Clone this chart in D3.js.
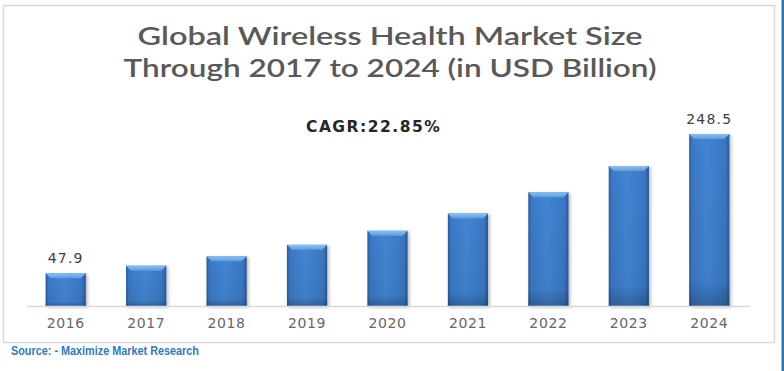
<!DOCTYPE html>
<html>
<head>
<meta charset="utf-8">
<script src="https://cdn.jsdelivr.net/npm/d3@7"></script>
<style>
  html, body { margin: 0; padding: 0; background: #fff; }
  svg { display: block; }
</style>
</head>
<body>
<div id="chart"></div>
<script>
// data
var years = ['2016', '2017', '2018', '2019', '2020', '2021', '2022', '2023', '2024'];
var marketSize = [47.9, 58.8, 72.3, 88.8, 109.1, 134.0, 164.6, 202.3, 248.5];
var labelled = ['2016', '2024'];   // only these bars carry a value label
var titleLines = ['Global Wireless Health Market  Size', 'Through 2017 to 2024 (in USD Billion)'];
var cagrText = 'CAGR:22.85%';
var sourceText = 'Source: - Maximize Market Research';

var width = 784, height = 371;

var svg = d3.select('#chart').append('svg')
  .attr('width', width)
  .attr('height', height);

var defs = svg.append('defs');

// bar body: dark edges, lighter middle
var g1 = defs.append('linearGradient').attr('id', 'barBody')
  .attr('x1', '0').attr('x2', '1').attr('y1', '0').attr('y2', '0');
[['0%', '#28599a'], ['7%', '#3a78c4'], ['45%', '#4286d3'], ['90%', '#3a77c2'], ['100%', '#285897']]
  .forEach(function (s) { g1.append('stop').attr('offset', s[0]).attr('stop-color', s[1]); });

// a little darker toward the bottom
var g2 = defs.append('linearGradient').attr('id', 'barShade')
  .attr('x1', '0').attr('x2', '0').attr('y1', '0').attr('y2', '1');
g2.append('stop').attr('offset', '0%').attr('stop-color', '#000').attr('stop-opacity', 0);
g2.append('stop').attr('offset', '85%').attr('stop-color', '#000').attr('stop-opacity', 0.05);
g2.append('stop').attr('offset', '100%').attr('stop-color', '#000').attr('stop-opacity', 0.25);

// top bevel
var g3 = defs.append('linearGradient').attr('id', 'barTop')
  .attr('x1', '0').attr('x2', '0').attr('y1', '0').attr('y2', '1');
g3.append('stop').attr('offset', '0%').attr('stop-color', '#8cc0f2');
g3.append('stop').attr('offset', '100%').attr('stop-color', '#5a9be2');

var shadow = defs.append('filter').attr('id', 'shadow')
  .attr('x', '-20%').attr('y', '-10%').attr('width', '150%').attr('height', '130%');
shadow.append('feDropShadow').attr('dx', 2).attr('dy', 1).attr('stdDeviation', 1.5)
  .attr('flood-color', '#000').attr('flood-opacity', 0.25);

// outer frame + blue edge at the right
svg.append('rect')
  .attr('x', 3.5).attr('y', 5.5).attr('width', 771).attr('height', 337)
  .attr('fill', '#fff').attr('stroke', '#d9d9d9').attr('stroke-width', 1.5);
svg.append('rect')
  .attr('x', 781.5).attr('y', 0).attr('width', 2.5).attr('height', height)
  .attr('fill', '#2e75b6');

// title
svg.append('g').selectAll('text')
  .data(titleLines)
  .enter().append('text')
  .attr('x', 390)
  .attr('y', function (d, i) { return 45 + i * 32; })
  .attr('text-anchor', 'middle')
  .attr('font-family', 'Lato, "Open Sans", sans-serif')
  .attr('font-weight', 600)
  .attr('font-size', '25px')
  .attr('fill', '#595959')
  .attr('textLength', function (d, i) { return i == 0 ? 505 : 533; })
  .attr('lengthAdjust', 'spacingAndGlyphs')
  .text(function (d) { return d; });

// scales
var x = d3.scaleBand()
  .domain(years)
  .range([25.5, 749.5])
  .paddingInner(0.5)
  .paddingOuter(0.25);

var y = d3.scaleLinear()
  .domain([0, 248.5])
  .range([306.5, 134]);

// bars
var bars = svg.append('g').selectAll('g')
  .data(years)
  .enter().append('g');

bars.append('rect')
  .attr('x', function (d) { return x(d); })
  .attr('y', function (d, i) { return y(marketSize[i]); })
  .attr('width', x.bandwidth())
  .attr('height', function (d, i) { return y(0) - y(marketSize[i]); })
  .attr('fill', 'url(#barBody)')
  .attr('filter', 'url(#shadow)');

bars.append('rect')
  .attr('x', function (d) { return x(d); })
  .attr('y', function (d, i) { return y(marketSize[i]); })
  .attr('width', x.bandwidth())
  .attr('height', function (d, i) { return y(0) - y(marketSize[i]); })
  .attr('fill', 'url(#barShade)');

bars.append('path')
  .attr('d', function (d, i) {
    var x0 = x(d), x1 = x(d) + x.bandwidth(), t = y(marketSize[i]);
    return 'M' + x0 + ',' + t + 'L' + x1 + ',' + t +
           'L' + (x1 - 5) + ',' + (t + 5) + 'L' + (x0 + 5) + ',' + (t + 5) + 'Z';
  })
  .attr('fill', 'url(#barTop)');

// axis
var xAxis = svg.append('g')
  .attr('transform', 'translate(0,' + y(0) + ')')
  .call(d3.axisBottom(x).tickSize(0).tickPadding(12).tickSizeOuter(0));
xAxis.select('.domain')
  .attr('stroke', '#d9d9d9')
  .attr('stroke-width', 1.5)
  .attr('d', 'M27,0H750');
xAxis.selectAll('text')
  .attr('font-family', '"DejaVu Sans", Verdana, sans-serif')
  .attr('font-size', '14px')
  .attr('letter-spacing', '0.6px')
  .attr('fill', '#666666');

// value labels
svg.append('g').selectAll('text')
  .data(years.filter(function (d) { return labelled.indexOf(d) >= 0; }))
  .enter().append('text')
  .attr('x', function (d) { return x(d) + x.bandwidth() / 2; })
  .attr('y', function (d) { return y(marketSize[years.indexOf(d)]) - 10; })
  .attr('text-anchor', 'middle')
  .attr('font-family', '"DejaVu Sans", Verdana, sans-serif')
  .attr('font-size', '14px')
  .attr('letter-spacing', '1.2px')
  .attr('fill', '#404040')
  .text(function (d) { return d3.format('.1f')(marketSize[years.indexOf(d)]); });

// CAGR note
svg.append('text')
  .attr('x', 306)
  .attr('y', 132)
  .attr('font-family', '"DejaVu Sans", Verdana, sans-serif')
  .attr('font-weight', 'bold')
  .attr('font-size', '15.5px')
  .attr('letter-spacing', '1.5px')
  .attr('fill', '#262626')
  .text(cagrText);

// source
svg.append('text')
  .attr('x', 11)
  .attr('y', 354.5)
  .attr('font-family', '"Liberation Sans", Arial, sans-serif')
  .attr('font-weight', 'bold')
  .attr('font-size', '12px')
  .attr('textLength', 188)
  .attr('lengthAdjust', 'spacingAndGlyphs')
  .attr('fill', '#2f7bc4')
  .text(sourceText);
</script>
</body>
</html>
